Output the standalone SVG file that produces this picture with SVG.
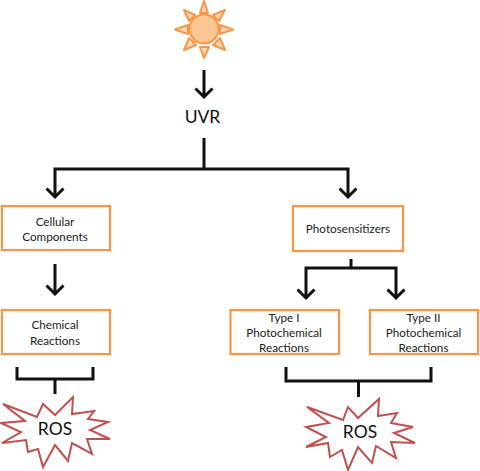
<svg xmlns="http://www.w3.org/2000/svg" width="480" height="471" viewBox="0 0 480 471">
<style>
.box{fill:#fff;stroke:#f79646;stroke-width:2.2}
.t{font-family:Lato,"Liberation Sans",sans-serif;font-size:11.7px;fill:#222;text-anchor:middle}
.big{font-family:Lato,"Liberation Sans",sans-serif;font-size:17.5px;fill:#111;text-anchor:middle}
.c{fill:none;stroke:#111;stroke-width:3}
.star{fill:#fff;stroke:#c0504d;stroke-width:2}
.ray{fill:#fcd5b5;stroke:#f79646;stroke-width:2;stroke-linejoin:round}
</style>
<rect width="480" height="471" fill="#fff"/>
<g id="sun">
<circle cx="204" cy="29" r="14.500" fill="#fbc594" stroke="#f79646" stroke-width="2"/>
<polygon class="ray" points="204,1 200,13 208,13"/>
<polygon class="ray" points="204,58 200,47 209,47"/>
<polygon class="ray" points="175,29.500 188,25 188,34"/>
<polygon class="ray" points="233,29.500 220,25 220,34"/>
<polygon class="ray" points="184,10 195,15 189,21"/>
<polygon class="ray" points="225,10 213,15 219,21"/>
<polygon class="ray" points="184,50 189,38 196,45"/>
<polygon class="ray" points="225,50 213,45 220,38"/>
</g>
<g id="connectors">
<path class="c" d="M204 70V97M195.500 88.500L204 97L212.500 88.500"/>
<path class="c" d="M204 138V169M55 197V169H348V197M46.500 188.500L55 197L63.500 188.500M339.500 188.500L348 197L356.500 188.500"/>
<path class="c" d="M55 264V294M46.500 285.500L55 294L63.500 285.500"/>
<path class="c" d="M351 259V268M306 298V268H396V298M297.500 289.500L306 298L314.500 289.500M387.500 289.500L396 298L404.500 289.500"/>
<path class="c" d="M17 367V379H93V367M55 379V394"/>
<path class="c" d="M286 367V381H431V367M358.500 381V397"/>
</g>
<g id="uvr"><text class="big" x="202.500" y="123">UVR</text></g>
<g id="cellular"><rect class="box" x="2" y="206" width="108" height="44"/><text class="t" x="55" y="226">Cellular</text><text class="t" x="55" y="241">Components</text></g>
<g id="chemical"><rect class="box" x="2" y="310" width="108" height="44"/><text class="t" x="55" y="329">Chemical</text><text class="t" x="55" y="345">Reactions</text></g>
<g id="photosensitizers"><rect class="box" x="293" y="206" width="110" height="45"/><text class="t" x="348" y="233">Photosensitizers</text></g>
<g id="type1"><rect class="box" x="230.500" y="310" width="108.500" height="44"/><text class="t" x="284" y="322">Type I</text><text class="t" x="284" y="337">Photochemical</text><text class="t" x="284" y="352">Reactions</text></g>
<g id="type2"><rect class="box" x="370" y="310" width="108" height="44"/><text class="t" x="423.500" y="322">Type II</text><text class="t" x="423.500" y="337">Photochemical</text><text class="t" x="423.500" y="352">Reactions</text></g>
<g id="ros1"><polygon class="star" points="3,404 37,417 43,404 55,415 73,397 72,414 94,411 88,419 108,422 90,430 110,439 87,439 92,454 72,443 68,461 55,445 43,467 38,449 28,452 26,440 2,443 21,432 1,423 25,421"/><text class="big" x="55" y="435">ROS</text></g>
<g id="ros2"><polygon class="star" points="307,407 343,420 348,407 358,418 379,399 378,416 397,413 391,423 413,427 394,433 415,443 391,442 396,458 376,446 372,463 358,447 348,470 342,450 330,457 328,443 306,447 326,437 306,427 329,423"/><text class="big" x="360" y="438">ROS</text></g>
</svg>
